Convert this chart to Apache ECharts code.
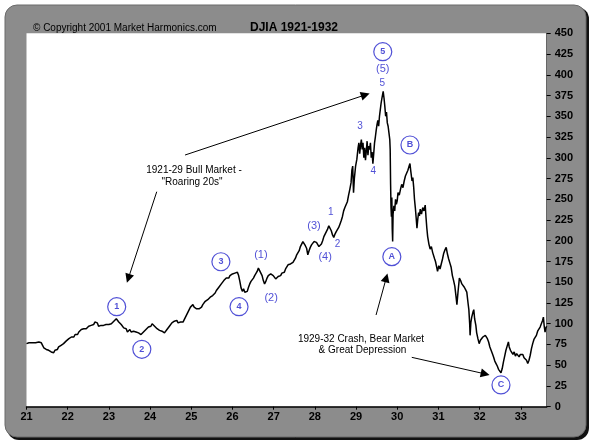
<!DOCTYPE html>
<html>
<head>
<meta charset="utf-8">
<script src="https://cdn.jsdelivr.net/npm/echarts@6/dist/echarts.min.js"></script>
<style>
html,body{margin:0;padding:0;background:#fff;}
#chart{width:596px;height:446px;}
</style>
</head>
<body>
<div id="chart"></div>
<script>
// DJIA 1921-1929 bull market (decimal year, index value)
const bull1921to1929 = [
[21.00,76],[21.03,75],[21.06,77],[21.10,76],[21.14,77],[21.18,78],[21.22,77],[21.26,79],[21.30,78],[21.33,80],[21.36,77],[21.39,74],[21.42,71],[21.45,72],[21.48,69],[21.51,70],[21.54,68],[21.57,69],[21.60,66],[21.63,67],[21.66,65],[21.69,68],[21.72,70],[21.75,69],[21.78,72],[21.81,71],[21.84,74],[21.87,73],[21.90,76],[21.93,77],[21.96,79],
[22.00,80],[22.03,82],[22.06,81],[22.09,84],[22.12,85],[22.15,84],[22.18,87],[22.21,88],[22.24,87],[22.27,90],[22.30,91],[22.33,93],[22.36,92],[22.39,94],[22.42,95],[22.45,94],[22.48,96],[22.51,97],[22.54,96],[22.57,98],[22.60,100],[22.63,99],[22.66,102],[22.69,100],[22.72,101],[22.75,97],[22.78,99],[22.81,98],[22.84,96],[22.87,98],[22.90,97],[22.93,99],[22.96,98],
[23.00,99],[23.03,97],[23.06,100],[23.09,101],[23.12,103],[23.15,104],[23.18,106],[23.21,104],[23.24,102],[23.27,103],[23.30,99],[23.33,98],[23.36,95],[23.39,93],[23.42,94],[23.45,90],[23.48,92],[23.51,93],[23.54,90],[23.57,92],[23.60,91],[23.63,93],[23.66,90],[23.69,91],[23.72,89],[23.75,88],[23.78,87],[23.81,88],[23.84,90],[23.87,92],[23.90,93],[23.93,95],[23.96,96],[23.99,98],
[24.02,97],[24.05,100],[24.08,99],[24.11,97],[24.14,96],[24.17,94],[24.20,95],[24.23,92],[24.26,93],[24.29,91],[24.32,90],[24.35,89],[24.38,91],[24.41,93],[24.44,95],[24.47,97],[24.50,99],[24.53,101],[24.56,100],[24.59,103],[24.62,105],[24.65,104],[24.68,101],[24.71,103],[24.74,102],[24.77,100],[24.80,102],[24.83,105],[24.86,108],[24.89,111],[24.92,114],[24.95,117],[24.98,120],
[25.01,121],[25.04,123],[25.07,120],[25.10,121],[25.13,118],[25.16,116],[25.19,118],[25.22,117],[25.25,120],[25.28,123],[25.31,125],[25.34,127],[25.37,126],[25.40,129],[25.43,130],[25.46,132],[25.49,131],[25.52,134],[25.55,133],[25.58,137],[25.61,140],[25.64,142],[25.67,144],[25.70,146],[25.73,148],[25.76,150],[25.79,152],[25.82,151],[25.85,155],[25.88,157],[25.91,155],[25.94,158],[25.97,157],
[26.00,160],[26.03,158],[26.06,161],[26.09,159],[26.12,162],[26.15,158],[26.18,151],[26.21,143],[26.24,139],[26.27,142],[26.30,138],[26.33,140],[26.36,139],[26.39,144],[26.42,148],[26.45,151],[26.48,150],[26.51,155],[26.54,158],[26.57,160],[26.60,163],[26.63,167],[26.66,164],[26.69,161],[26.72,158],[26.75,152],[26.78,148],[26.81,151],[26.84,155],[26.87,158],[26.90,156],[26.93,160],[26.96,161],[26.99,158],
[27.02,156],[27.05,154],[27.08,155],[27.11,157],[27.14,159],[27.17,158],[27.20,161],[27.23,163],[27.26,162],[27.29,166],[27.32,168],[27.35,171],[27.38,169],[27.41,172],[27.44,171],[27.47,174],[27.50,176],[27.53,179],[27.56,183],[27.59,182],[27.62,188],[27.65,193],[27.68,196],[27.71,199],[27.74,197],[27.77,194],[27.80,191],[27.83,183],[27.86,188],[27.89,192],[27.92,195],[27.95,197],[27.98,199],
[28.01,201],[28.04,198],[28.07,196],[28.10,193],[28.13,192],[28.16,196],[28.19,200],[28.22,205],[28.25,207],[28.28,211],[28.31,214],[28.34,218],[28.37,216],[28.40,212],[28.43,207],[28.46,204],[28.49,208],[28.52,211],[28.55,213],[28.58,216],[28.61,220],[28.64,224],[28.67,229],[28.70,236],[28.73,240],[28.76,241],[28.79,247],[28.82,255],[28.85,262],[28.88,270],[28.90,285],[28.92,290],[28.94,258],[28.96,275],[28.99,290],
[29.02,298],[29.05,312],[29.07,318],[29.09,305],[29.11,315],[29.13,322],[29.15,310],[29.17,318],[29.19,300],[29.21,312],[29.23,297],[29.25,308],[29.27,320],[29.29,303],[29.31,314],[29.33,310],[29.35,318],[29.37,300],[29.39,307],[29.41,293],[29.43,305],[29.45,318],[29.47,325],[29.49,333],[29.51,340],[29.53,345],[29.55,338],[29.57,350],[29.59,358],[29.61,366],[29.63,372],[29.66,380],
[29.68,372],[29.70,362],[29.72,350],[29.74,355],[29.76,342],[29.78,338],[29.80,330],[29.82,322]
];
// Crash, bear market and great depression 1929-1933
const crash1929to1933 = [
[29.83,310],[29.84,268],[29.85,240],[29.86,229],[29.87,252],[29.88,214],[29.89,199],[29.90,232],[29.92,242],[29.94,236],[29.96,250],[29.98,244],
[30.00,248],[30.02,258],[30.05,255],[30.08,262],[30.11,268],[30.14,264],[30.17,272],[30.20,278],[30.23,276],[30.26,285],[30.29,290],[30.31,293],[30.33,284],[30.36,272],[30.38,276],[30.40,265],[30.42,250],[30.44,240],[30.46,228],[30.48,215],[30.50,226],[30.52,234],[30.54,230],[30.56,238],[30.59,232],[30.62,240],[30.65,236],[30.68,243],[30.70,228],[30.72,215],[30.74,205],[30.77,196],[30.80,190],[30.83,193],[30.86,186],[30.89,188],[30.91,178],[30.93,175],[30.96,168],[30.98,163],
[31.01,170],[31.04,166],[31.07,172],[31.10,178],[31.13,185],[31.16,189],[31.19,192],[31.22,184],[31.25,178],[31.28,173],[31.31,168],[31.34,158],[31.37,152],[31.40,145],[31.43,132],[31.45,123],[31.48,140],[31.51,155],[31.54,152],[31.57,148],[31.60,150],[31.63,144],[31.66,141],[31.69,138],[31.72,125],[31.74,117],[31.76,100],[31.77,86],[31.79,102],[31.81,108],[31.84,114],[31.86,117],[31.88,106],[31.91,98],[31.93,89],[31.96,82],[31.99,76],
[32.02,80],[32.05,78],[32.08,84],[32.11,82],[32.14,86],[32.17,88],[32.19,82],[32.22,78],[32.25,72],[32.28,68],[32.31,64],[32.34,60],[32.37,55],[32.40,52],[32.43,49],[32.46,45],[32.49,43],[32.52,41],[32.55,46],[32.58,54],[32.61,61],[32.64,68],[32.67,73],[32.70,78],[32.72,72],[32.75,68],[32.78,66],[32.81,63],[32.84,66],[32.87,61],[32.90,64],[32.93,62],[32.96,60],[32.99,63],
[33.02,61],[33.05,63],[33.08,59],[33.11,61],[33.14,56],[33.17,52],[33.20,56],[33.23,62],[33.26,70],[33.29,76],[33.32,81],[33.35,79],[33.38,86],[33.41,91],[33.44,89],[33.47,96],[33.50,100],[33.53,104],[33.55,108],[33.57,97],[33.59,90],[33.61,95],[33.63,97]
];

// Axis ticks
const xTicks = [21,22,23,24,25,26,27,28,29,30,31,32,33];
const xMin = 21, xMax = 33.63;
const yMin = 0, yMax = 450, yStep = 25;

// Elliott wave labels: circled and plain [year, value, text]
const circledWaves = [
[23.19,120.5,'1'],[23.80,69.2,'2'],[25.72,174.7,'3'],[26.16,120.5,'4'],
[29.65,427.8,'5'],[29.87,180.8,'A'],[30.31,315.4,'B'],[32.52,26.2,'C']
];
const plainWaves = [
[26.69,182.8,'(1)'],[26.94,131.4,'(2)'],[27.98,218.1,'(3)'],[28.25,180.0,'(4)'],[29.65,406.6,'(5)']
];
const minorWaves = [
[28.39,233.8,'1'],[28.55,195.7,'2'],[29.10,338.3,'3'],[29.42,283.2,'4'],[29.64,389.7,'5']
];

// Annotation arrows [[fromYear, fromValue],[toYear, toValue]]
const arrows = [
[[24.849,303.3],[29.227,375.8]],
[[24.162,259.1],[23.472,154.5]],
[[29.487,110.5],[29.735,155.3]],
[[30.354,59.5],[32.137,39.5]]
];

const FONT = '"Liberation Sans", Arial, sans-serif';
const BLUE = '#2424cc';

const chart = echarts.init(document.getElementById('chart'), null, {renderer:'canvas'});
const djia = bull1921to1929.concat(crash1929to1933);

chart.setOption({
  animation: false,
  backgroundColor: '#ffffff',
  textStyle: {fontFamily: FONT},
  grid: {left: 26.5, right: 49.3, top: 33.3, bottom: 39.3, show: true, backgroundColor: '#ffffff', borderWidth: 0},
  xAxis: {
    type: 'value', min: xMin, max: xMax, interval: 1,
    axisLine: {show: true, lineStyle: {color: '#000', width: 1.5}},
    axisTick: {show: true, length: 3, lineStyle: {color: '#000'}, customValues: xTicks},
    axisLabel: {color: '#000', fontWeight: 'bold', fontSize: 11, margin: 5, fontFamily: FONT, customValues: xTicks},
    splitLine: {show: false}
  },
  yAxis: {
    type: 'value', position: 'right', min: yMin, max: yMax, interval: yStep,
    axisLine: {show: true, lineStyle: {color: '#666', width: 1}},
    axisTick: {show: true, length: 4, lineStyle: {color: '#000'}},
    axisLabel: {color: '#000', fontWeight: 'bold', fontSize: 11, margin: 8, fontFamily: FONT},
    splitLine: {show: false}
  },
  graphic: [
    {type: 'rect', z: -20, silent: true, shape: {x: 7, y: 7, width: 582, height: 433, r: 12}, style: {fill: '#111'}},
    {type: 'rect', z: -19, silent: true, shape: {x: 5, y: 5, width: 581, height: 432, r: 12}, style: {fill: '#8c8c8c', stroke: '#6a6a6a', lineWidth: 1}},
    {type: 'text', z: 100, silent: true, style: {text: '\u00a9 Copyright 2001 Market Harmonics.com', x: 33, y: 28, font: '10px ' + FONT, fill: '#000', textVerticalAlign: 'middle'}},
    {type: 'text', z: 100, silent: true, style: {text: 'DJIA 1921-1932', x: 294, y: 28, font: 'bold 12px ' + FONT, fill: '#000', textAlign: 'center', textVerticalAlign: 'middle'}},
    {type: 'text', z: 100, silent: true, style: {text: '1921-29 Bull Market -', x: 194, y: 170, font: '10px ' + FONT, fill: '#000', textAlign: 'center', textVerticalAlign: 'middle'}},
    {type: 'text', z: 100, silent: true, style: {text: '"Roaring 20s"', x: 192, y: 182.7, font: '10px ' + FONT, fill: '#000', textAlign: 'center', textVerticalAlign: 'middle'}},
    {type: 'text', z: 100, silent: true, style: {text: '1929-32 Crash, Bear Market', x: 361, y: 339.3, font: '10px ' + FONT, fill: '#000', textAlign: 'center', textVerticalAlign: 'middle'}},
    {type: 'text', z: 100, silent: true, style: {text: '& Great Depression', x: 362.5, y: 350.7, font: '10px ' + FONT, fill: '#000', textAlign: 'center', textVerticalAlign: 'middle'}}
  ],
  series: [
    {
      type: 'line', data: djia, showSymbol: false, symbol: 'none', clip: true,
      lineStyle: {color: '#000', width: 1.5}, z: 3,
      markLine: {
        silent: true, symbol: ['none', 'triangle'], symbolSize: 9,
        label: {show: false},
        lineStyle: {color: '#000', width: 1, type: 'solid'},
        itemStyle: {color: '#000'},
        emphasis: {disabled: true},
        data: arrows.map(a => [{coord: a[0]}, {coord: a[1]}])
      }
    },
    {
      type: 'scatter', data: circledWaves.map(d => [d[0], d[1], d[2]]), symbol: 'circle', symbolSize: 18, z: 5,
      itemStyle: {color: '#fff', borderColor: BLUE, borderWidth: 1.2},
      label: {show: true, position: 'inside', formatter: p => p.data[2], color: BLUE, fontSize: 9, fontWeight: 'bold', fontFamily: FONT},
      emphasis: {disabled: true}
    },
    {
      type: 'scatter', data: plainWaves.map(d => [d[0], d[1], d[2]]), symbol: 'circle', symbolSize: 1, z: 5,
      itemStyle: {color: 'rgba(0,0,0,0)'},
      label: {show: true, position: 'inside', formatter: p => p.data[2], color: BLUE, fontSize: 11, fontFamily: FONT},
      emphasis: {disabled: true}
    },
    {
      type: 'scatter', data: minorWaves.map(d => [d[0], d[1], d[2]]), symbol: 'circle', symbolSize: 1, z: 5,
      itemStyle: {color: 'rgba(0,0,0,0)'},
      label: {show: true, position: 'inside', formatter: p => p.data[2], color: BLUE, fontSize: 10, fontFamily: FONT},
      emphasis: {disabled: true}
    }
  ]
});
</script>
</body>
</html>
